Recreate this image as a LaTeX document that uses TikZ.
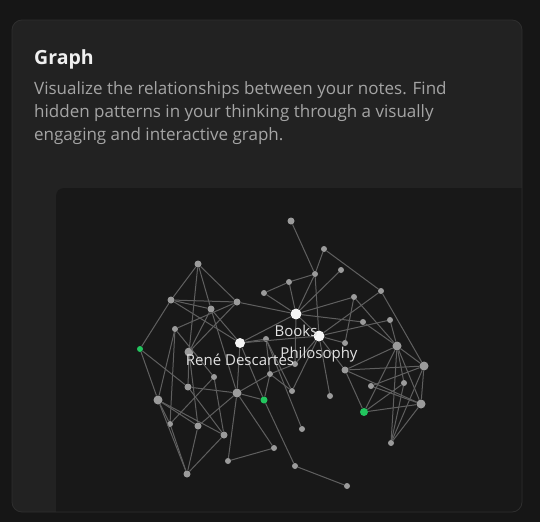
\documentclass[tikz,border=0pt]{standalone}
\usepackage{fontspec}
\setmainfont{Open Sans}
\definecolor{outerbg}{RGB}{22,22,22}
\definecolor{cardbg}{RGB}{34,34,34}
\definecolor{cardline}{RGB}{46,46,46}
\definecolor{panelbg}{RGB}{24,24,24}
\definecolor{titlecol}{RGB}{240,240,240}
\definecolor{desccol}{RGB}{165,165,165}
\definecolor{edgecol}{RGB}{95,95,95}
\definecolor{nodegray}{RGB}{155,155,155}
\definecolor{nodewhite}{RGB}{245,245,245}
\definecolor{nodegreen}{RGB}{34,197,94}
\definecolor{labelcol}{RGB}{225,225,225}
\tikzset{
  gnode/.style={circle, fill=nodegray, inner sep=0pt, minimum size=7pt},
  gbig/.style={gnode, minimum size=9pt},
  gsmall/.style={gnode, minimum size=6pt},
  wnode/.style={circle, fill=nodewhite, inner sep=0pt, minimum size=11pt},
  grnode/.style={circle, fill=nodegreen, inner sep=0pt, minimum size=7pt},
  edge/.style={draw=edgecol, line width=1pt},
  lbl/.style={anchor=base, text=labelcol, font=\fontsize{15}{18}\selectfont, inner sep=0pt},
  titletext/.style={anchor=base west, text=titlecol, font=\fontsize{19.5}{23}\selectfont\bfseries, inner sep=0pt},
  desctext/.style={anchor=base west, text=desccol, font=\fontsize{17}{23}\selectfont, inner sep=0pt}
}
\begin{document}
\begin{tikzpicture}[x=1pt, y=-1pt]
\useasboundingbox (0,0) rectangle (540,522);
\fill[outerbg] (0,0) rectangle (540,522);
% card
\fill[cardbg, rounded corners=10pt] (12,20) rectangle (522,512);
\begin{scope}
  \clip[rounded corners=10pt] (12,20) rectangle (522,512);
  \fill[panelbg, rounded corners=8pt] (56,188) rectangle (580,570);
\end{scope}
\draw[cardline, line width=0.8pt, rounded corners=10pt] (12,20) rectangle (522,512);
% texts
\node[titletext] (title) at (34,64) {Graph};
\node[desctext] (d1) at (34,94) {Visualize the relationships between your notes. Find};
\node[desctext] (d2) at (34,117) {hidden patterns in your thinking through a visually};
\node[desctext] (d3) at (34,140) {engaging and interactive graph.};
% graph nodes
\node[gnode] (n1) at (291,221) {};
\node[gnode] (A) at (198,264) {};
\node[gsmall] (K) at (324,249) {};
\node[gsmall] (M) at (341,270) {};
\node[gsmall] (L) at (315,274) {};
\node[gsmall] (J) at (289,282) {};
\node[gsmall] (I) at (264,293) {};
\node[gsmall] (N) at (381,291) {};
\node[gsmall] (O) at (354,297) {};
\node[gnode] (B) at (171,300) {};
\node[gnode] (D) at (237,302) {};
\node[gnode] (C) at (211,309) {};
\node[wnode] (W2) at (296,314) {};
\node[gsmall] (P) at (363,322) {};
\node[gsmall] (Q) at (390,320) {};
\node[gsmall] (E) at (175,329) {};
\node[wnode] (W3) at (319,336) {};
\node[gsmall] (H) at (266,339) {};
\node[wnode, minimum size=10pt] (W1) at (240,343) {};
\node[gsmall] (R) at (345,343) {};
\node[gbig] (S) at (397,346) {};
\node[grnode, minimum size=6pt] (G1) at (140,349) {};
\node[gbig] (F) at (189,352) {};
\node[gsmall] (AA) at (295,364) {};
\node[gnode] (T) at (345,370) {};
\node[gbig] (U) at (424,366) {};
\node[gsmall] (CC) at (270,374) {};
\node[gsmall] (BB) at (214,377) {};
\node[gsmall] (X) at (404,383) {};
\node[gsmall] (V) at (371,386) {};
\node[gnode] (DD) at (188,387) {};
\node[gbig] (EE) at (237,393) {};
\node[gsmall] (FF) at (292,391) {};
\node[gsmall] (OO) at (330,396) {};
\node[gbig] (GG) at (158,400) {};
\node[grnode] (G2) at (264,400) {};
\node[gbig] (Y) at (421,404) {};
\node[grnode, minimum size=8pt] (G3) at (364,412) {};
\node[gsmall] (HH) at (170,424) {};
\node[gnode] (II) at (198,426) {};
\node[gsmall] (PP) at (302,429) {};
\node[gnode] (JJ) at (224,435) {};
\node[gsmall] (Z) at (391,443) {};
\node[gsmall] (KK) at (274,448) {};
\node[gsmall] (LL) at (228,461) {};
\node[gnode] (MM) at (187,474) {};
\node[gsmall] (NN) at (295,466) {};
\node[gsmall] (QQ) at (347,486) {};
% edges
\foreach \a/\b in {A/B, A/C, A/D, A/F, B/C, B/D, B/G1, B/W1, C/F, C/W1, C/EE,
  D/E, D/F, D/W2, E/GG, E/HH, E/BB, G1/GG, G1/DD, F/DD, F/II,
  W1/W2, W1/H, W1/W3, W1/EE, W1/G2, I/J, I/W2, J/L, J/W2, n1/L, K/L, K/N,
  L/W2, L/W3, M/W2, O/W2, O/S, O/R, N/W3, N/U, W2/W3, W2/P,
  W3/Q, W3/R, W3/AA, W3/FF, W3/OO, W3/T, P/S, Q/S, T/S,
  S/U, S/G3, S/Y, S/X, S/Z, T/U, T/G3, T/Y, U/V, U/Y, U/Z, V/Y,
  X/G3, X/Z, Y/G3, Y/Z, H/CC, H/PP, H/FF, AA/CC, AA/W2, CC/FF, CC/G2, CC/EE,
  EE/DD, EE/LL, EE/KK, EE/G2, EE/II, G2/NN, NN/QQ, LL/KK,
  GG/HH, GG/MM, GG/II, GG/JJ, HH/MM, HH/BB, II/MM, JJ/MM, JJ/BB, JJ/DD}
  \draw[edge] (\a) -- (\b);
% labels
\node[lbl] (lW2) at (296,336) {Books};
\node[lbl] (lW3) at (319,358) {Philosophy};
\node[lbl] (lW1) at (240,365) {René Descartes};
\end{tikzpicture}
\end{document}
